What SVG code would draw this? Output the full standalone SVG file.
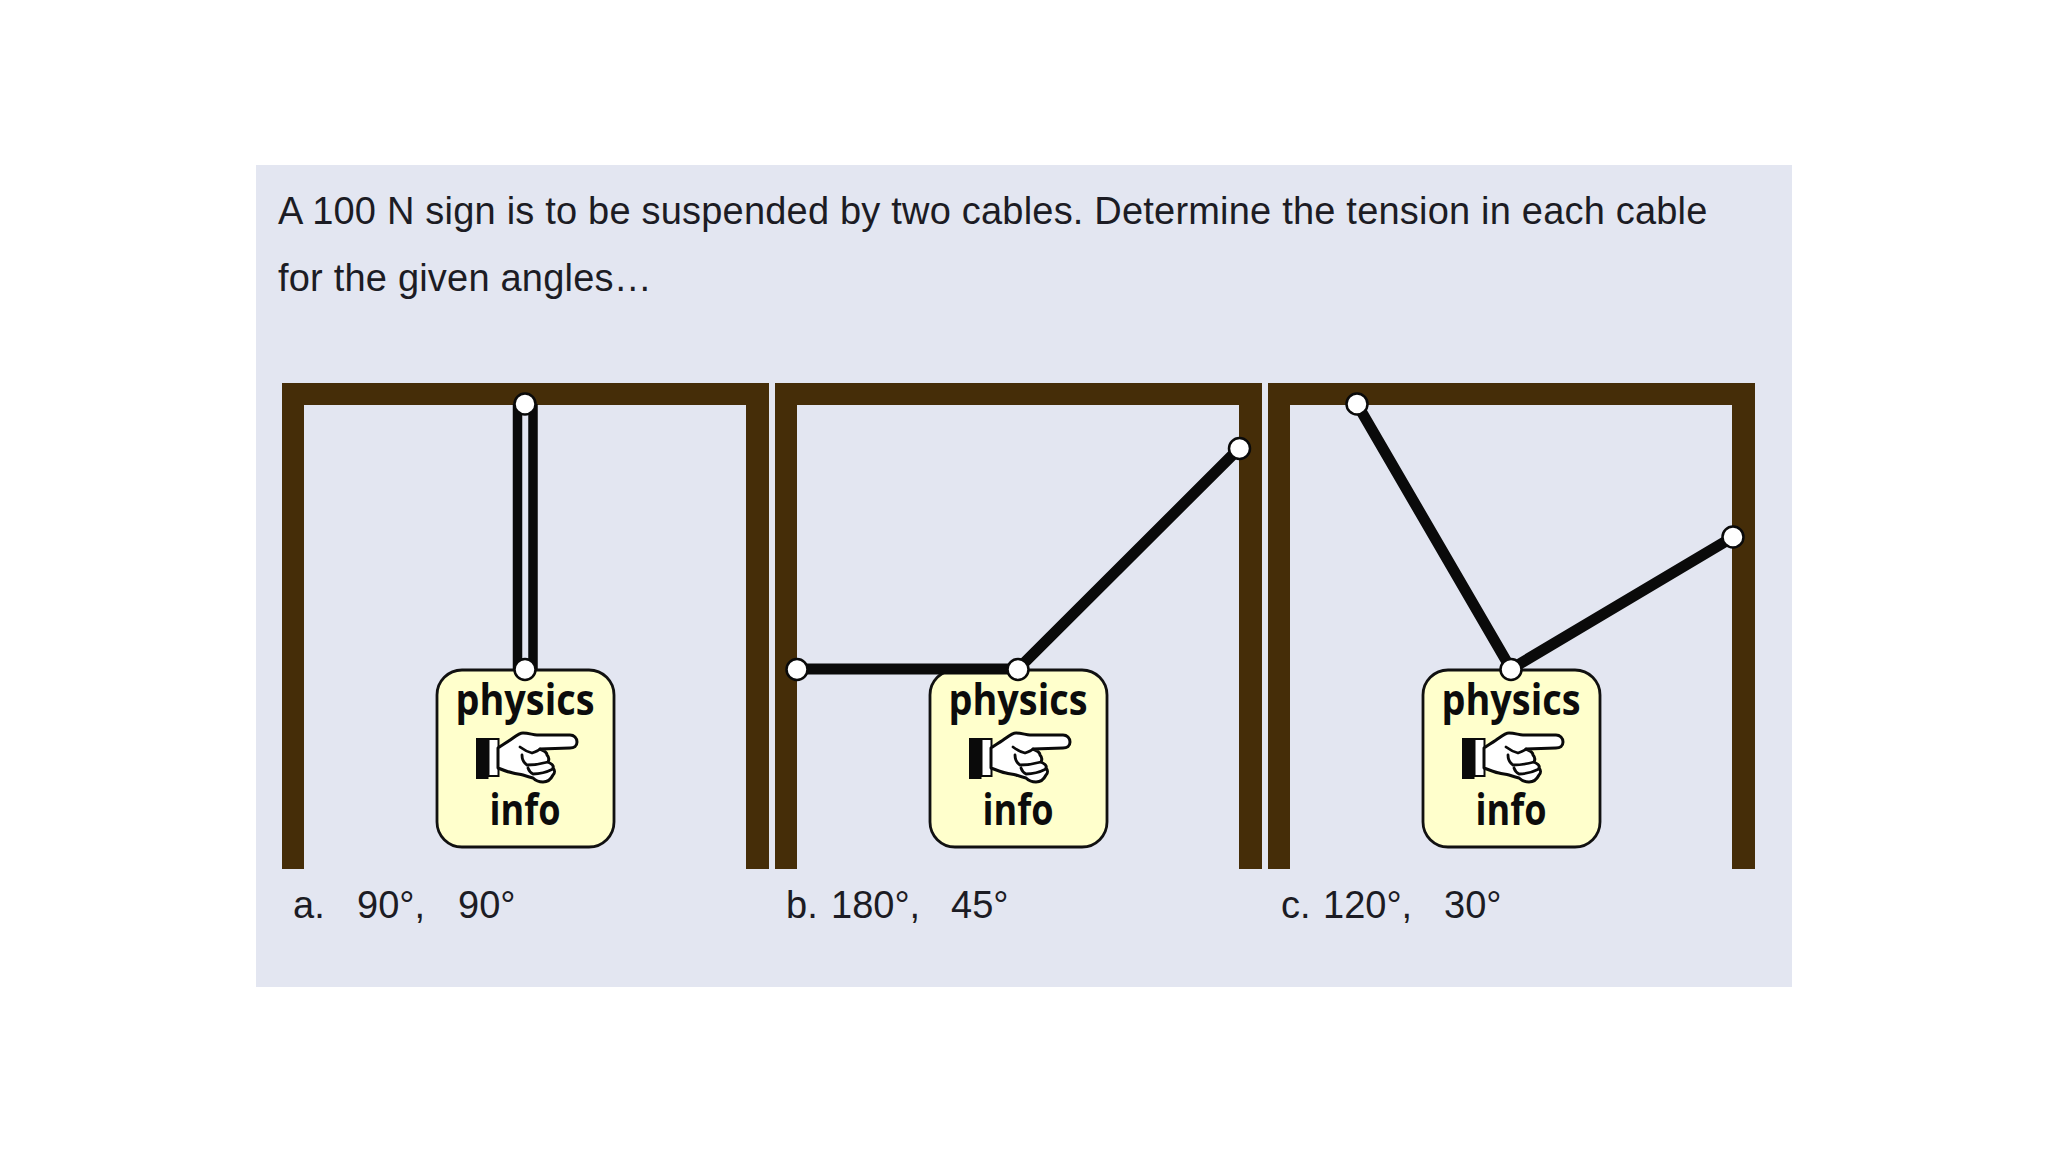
<svg xmlns="http://www.w3.org/2000/svg" width="2048" height="1152" viewBox="0 0 2048 1152">
<style>
.q{font-family:"Liberation Sans",Arial,sans-serif;font-size:38px;letter-spacing:.2px;fill:#1c1c24}
.l{font-family:"Liberation Sans",Arial,sans-serif;font-size:38px;fill:#1c1c24}
.frame{fill:#452d08}
.box{fill:#ffffcc;stroke:#111;stroke-width:2.8}
.s{font-family:"Open Sans",sans-serif;font-weight:700;font-size:43px;fill:#0c0c0c;text-anchor:middle}
.cable{stroke:#0a0a0a;stroke-width:11;fill:none}
.pin{fill:#fff;stroke:#0a0a0a;stroke-width:2.5}
</style>
<defs>
<path id="frm" d="M0 0H487V486H464V22H22V486H0Z"/>
<g id="hand">
<rect x="0" y="0" width="12.5" height="41" fill="#0a0a0a"/>
<rect x="12.5" y="1" width="10" height="37" fill="#fff" stroke="#0a0a0a" stroke-width="2"/>
<path d="M22 10C28 6 33 3 37 0C41 -3 44 -5 47 -5C53 -5 57 -3 61 -3H94C98 -3 101 0 101 4C101 8 98 10 94 10L64 11C69 13 71 15 71 17C73 19 73 22 72 24C76 26 78 28 77 30C79 32 79 35 77 37C75 41 71 44 67 44C63 44 59 42 57 40C53 39 50 38 47 37C44 36 40 36 37 35C32 34 27 32 22 30Z" fill="#fff" stroke="#0a0a0a" stroke-width="3" stroke-linejoin="round"/>
<path d="M44 9C48 12 52 14 56 15C59 14 62 13 64 11M46 17C46 21 48 25 51 27C58 27 65 26 72 24M52 30C53 33 55 35 57 36C64 36 71 34 77 31" fill="none" stroke="#0a0a0a" stroke-width="2.8" stroke-linecap="round" stroke-linejoin="round"/>
</g>
</defs>
<rect width="2048" height="1152" fill="#fff"/>
<rect id="panel" x="256" y="165" width="1536" height="822" fill="#e3e6f1"/>
<g id="question">
<text class="q" x="278" y="224">A 100 N sign is to be suspended by two cables. Determine the tension in each cable</text>
<text class="q" x="278" y="291">for the given angles…</text>
</g>
<g id="frame-a"><use href="#frm" x="282" y="383" class="frame"/></g>
<g id="frame-b"><use href="#frm" x="775" y="383" class="frame"/></g>
<g id="frame-c"><use href="#frm" x="1268" y="383" class="frame"/></g>
<g id="sign-a">
<rect class="box" x="437" y="670" width="177" height="177" rx="25"/>
<text class="s" x="525" y="715" textLength="139" lengthAdjust="spacingAndGlyphs">physics</text>
<use href="#hand" x="476" y="738"/>
<text class="s" x="525" y="825" textLength="71" lengthAdjust="spacingAndGlyphs">info</text>
</g>
<g id="sign-b">
<rect class="box" x="930" y="670" width="177" height="177" rx="25"/>
<text class="s" x="1018" y="715" textLength="139" lengthAdjust="spacingAndGlyphs">physics</text>
<use href="#hand" x="969" y="738"/>
<text class="s" x="1018" y="825" textLength="71" lengthAdjust="spacingAndGlyphs">info</text>
</g>
<g id="sign-c">
<rect class="box" x="1423" y="670" width="177" height="177" rx="25"/>
<text class="s" x="1511" y="715" textLength="139" lengthAdjust="spacingAndGlyphs">physics</text>
<use href="#hand" x="1462" y="738"/>
<text class="s" x="1511" y="825" textLength="71" lengthAdjust="spacingAndGlyphs">info</text>
</g>
<g id="connectors">
<path class="cable" style="stroke-width:9.5" d="M517.5 404V669M533 404V669"/>
<path class="cable" d="M797 669H1018L1239.5 448"/>
<path class="cable" d="M1357 404L1511 669L1733 537"/>
</g>
<g id="pins">
<circle class="pin" cx="525" cy="404" r="10.5"/><circle class="pin" cx="525" cy="669.500" r="10.5"/>
<circle class="pin" cx="797" cy="669.500" r="10.5"/><circle class="pin" cx="1018" cy="669.500" r="10.5"/><circle class="pin" cx="1239.5" cy="448.500" r="10.5"/>
<circle class="pin" cx="1357" cy="404" r="10.5"/><circle class="pin" cx="1511" cy="669.500" r="10.5"/><circle class="pin" cx="1733" cy="537" r="10.5"/>
</g>
<g id="labels">
<text class="l" y="918"><tspan x="293">a.</tspan><tspan x="357">90°,</tspan><tspan x="458">90°</tspan></text>
<text class="l" y="918"><tspan x="786">b.</tspan><tspan x="831">180°,</tspan><tspan x="951">45°</tspan></text>
<text class="l" y="918"><tspan x="1281">c.</tspan><tspan x="1323">120°,</tspan><tspan x="1444">30°</tspan></text>
</g>
</svg>
